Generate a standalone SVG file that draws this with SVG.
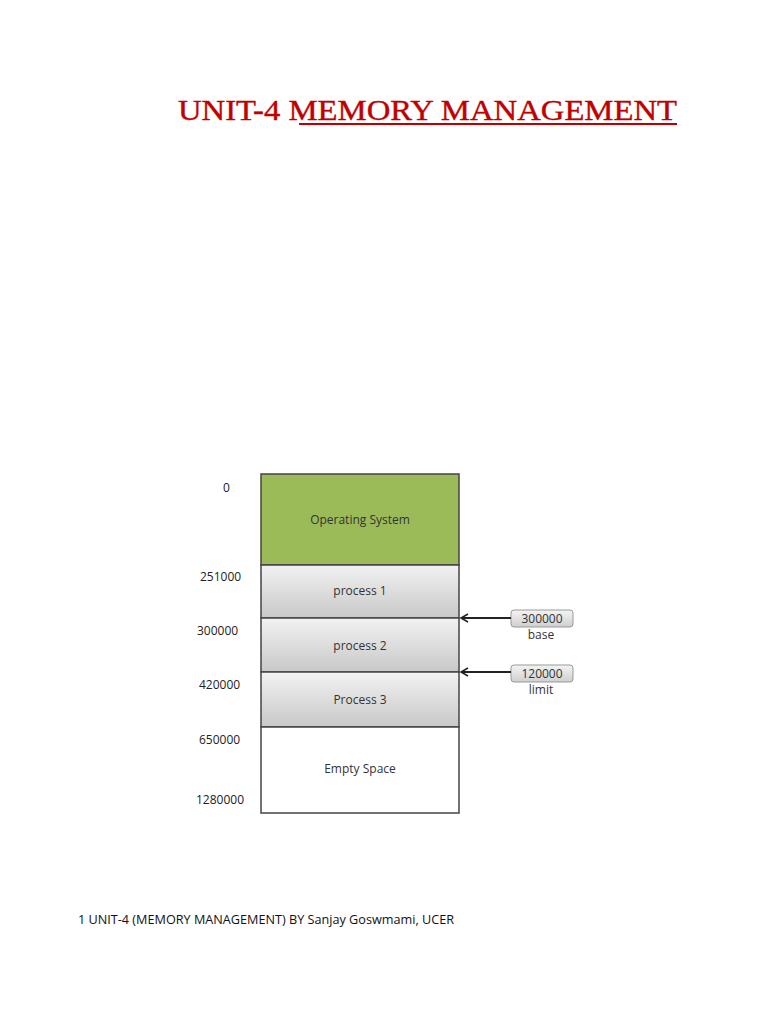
<svg xmlns="http://www.w3.org/2000/svg" width="768" height="1024" viewBox="0 0 768 1024">
<style>
.l{font-family:"Open Sans","DejaVu Sans",sans-serif;font-size:12px;fill:#222}
.c{font-family:"Open Sans","DejaVu Sans",sans-serif;font-size:12px;fill:#333;text-anchor:middle}
.b{stroke:#444;stroke-width:1.5}
</style>
<defs>
<linearGradient id="g" x1="0" y1="0" x2="0" y2="1"><stop offset="0" stop-color="#f2f2f2"/><stop offset="1" stop-color="#c8c8c8"/></linearGradient>
<linearGradient id="t" x1="0" y1="0" x2="0" y2="1"><stop offset="0" stop-color="#f4f4f4"/><stop offset="1" stop-color="#cfcfcf"/></linearGradient>
<marker id="a" markerWidth="10" markerHeight="10" refX="8" refY="5" orient="auto" markerUnits="userSpaceOnUse"><path d="M1,1 L8,5 L1,9" fill="none" stroke="#222" stroke-width="1.5"/></marker>
</defs>
<rect width="768" height="1024" fill="#fff"/>
<text x="178" y="120" font-family="Liberation Serif,serif" font-size="30" fill="#c00000" stroke="#c00000" stroke-width="0.4" textLength="499" lengthAdjust="spacingAndGlyphs">UNIT-4 MEMORY MANAGEMENT</text>
<line x1="299" y1="124" x2="677" y2="124" stroke="#c00000" stroke-width="2"/>
<g id="os"><rect class="b" x="261" y="474" width="198" height="91" fill="#9bbb59"/><text class="c" x="360" y="524">Operating System</text></g>
<g id="p1"><rect class="b" x="261" y="565" width="198" height="53" fill="url(#g)"/><text class="c" x="360" y="595">process 1</text></g>
<g id="p2"><rect class="b" x="261" y="618" width="198" height="54" fill="url(#g)"/><text class="c" x="360" y="650">process 2</text></g>
<g id="p3"><rect class="b" x="261" y="672" width="198" height="55" fill="url(#g)"/><text class="c" x="360" y="704">Process 3</text></g>
<g id="empty"><rect class="b" x="261" y="727" width="198" height="86" fill="#fff" stroke="#888"/><text class="c" x="360" y="773">Empty Space</text></g>
<g id="labels">
<text class="l" x="223" y="492">0</text>
<text class="l" x="200" y="581">251000</text>
<text class="l" x="197" y="635">300000</text>
<text class="l" x="199" y="689">420000</text>
<text class="l" x="199" y="744">650000</text>
<text class="l" x="196" y="804">1280000</text>
</g>
<g id="base"><rect x="511" y="610" width="62" height="17" rx="3" fill="url(#t)" stroke="#999"/><text class="c" x="542" y="623">300000</text><text class="c" x="541" y="639">base</text></g>
<g id="limit"><rect x="511" y="665" width="62" height="17" rx="3" fill="url(#t)" stroke="#999"/><text class="c" x="542" y="678">120000</text><text class="c" x="541" y="694">limit</text></g>
<g id="connectors" stroke="#222" stroke-width="2">
<line x1="511" y1="618" x2="461" y2="618" marker-end="url(#a)"/>
<line x1="511" y1="672" x2="461" y2="672" marker-end="url(#a)"/>
</g>
<text x="78" y="924" font-family="Open Sans,DejaVu Sans,sans-serif" font-size="12.5" fill="#111" textLength="376" lengthAdjust="spacingAndGlyphs">1 UNIT-4 (MEMORY MANAGEMENT) BY Sanjay Goswmami, UCER</text>
</svg>
